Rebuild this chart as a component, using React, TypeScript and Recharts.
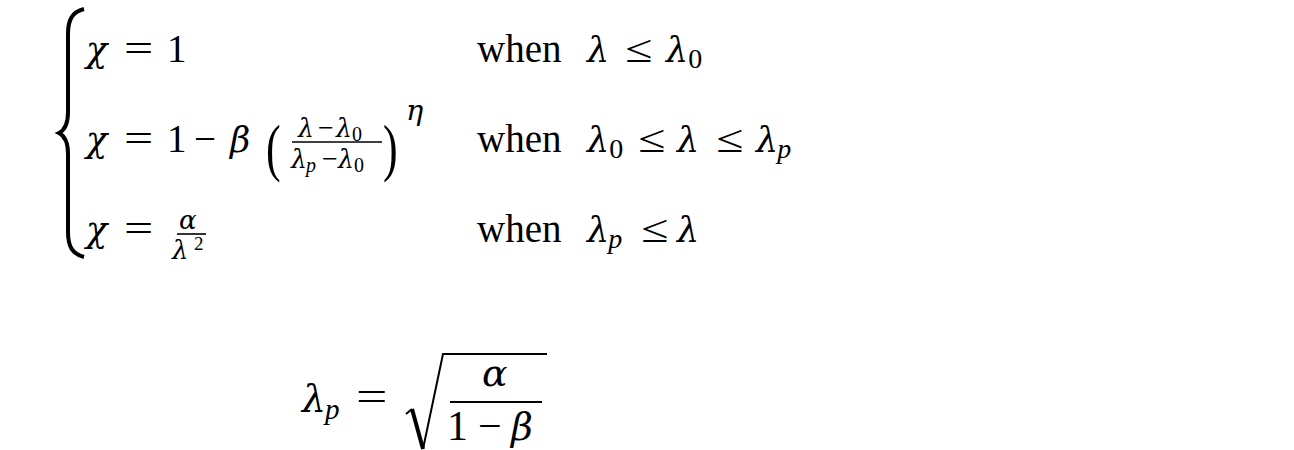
import React from 'react'
import { Surface, Text } from 'recharts'

const WIDTH = 1294
const HEIGHT = 450
const SERIF = '"Liberation Serif", "Times New Roman", serif'
const GREEK = '"DejaVu Serif", serif'
const GREEK_SCALE = 0.9

// formula content
const caseVariable = ['χ', 'χ', 'χ']
const conditionWord = ['when', 'when', 'when']
type Tok = { t: string; g?: boolean; sub?: string; op?: boolean }
const conditionTerms: Tok[][] = [
  [{ t: 'λ', g: true }, { t: '≤', op: true }, { t: 'λ', g: true, sub: '0' }],
  [
    { t: 'λ', g: true, sub: '0' },
    { t: '≤', op: true },
    { t: 'λ', g: true },
    { t: '≤', op: true },
    { t: 'λ', g: true, sub: 'p' },
  ],
  [{ t: 'λ', g: true, sub: 'p' }, { t: '≤', op: true }, { t: 'λ', g: true }],
]
const row1Rhs = '1'
const row2Rhs: Tok[] = [{ t: '1' }, { t: '−' }, { t: 'β', g: true }]
const row2Num: Tok[] = [{ t: 'λ', g: true }, { t: '−' }, { t: 'λ', g: true, sub: '0' }]
const row2Den: Tok[] = [{ t: 'λ', g: true, sub: 'p' }, { t: '−' }, { t: 'λ', g: true, sub: '0' }]
const row2Exp = 'η'
const row3Num = 'α'
const row3Den = 'λ'
const row3DenPow = '2'
const peakLhs: Tok = { t: 'λ', g: true, sub: 'p' }
const peakNum = 'α'
const peakDen: Tok[] = [{ t: '1' }, { t: '−' }, { t: 'β', g: true }]

// layout
const rowY = [62, 152, 242]
const condX = [
  [587, 625, 666],
  [587, 638, 677, 716, 756],
  [587, 641, 677],
]
const row2RhsX = [167, 194, 230]
const row2NumX = [298, 318, 336]
const row2DenX = [291, 322, 338]
const peakDenX = [447, 478, 511]

function Token({ tok, x, y, size, subSize }: { tok: Tok; x: number; y: number; size: number; subSize: number }) {
  const stretch = tok.op ? { textLength: size * 0.7, lengthAdjust: 'spacingAndGlyphs' } : {}
  return (
    <text x={x} y={y} fontFamily={SERIF} fontSize={size} fill="#000" {...stretch}>
      {tok.g ? (
        <tspan fontFamily={GREEK} fontStyle="italic" fontSize={size * GREEK_SCALE}>
          {tok.t}
        </tspan>
      ) : (
        tok.t
      )}
      {tok.sub && (
        <tspan fontSize={subSize} dy={size * 0.16} dx={tok.sub === 'p' ? -1 : 0} fontStyle={tok.sub === 'p' ? 'italic' : 'normal'}>
          {tok.sub}
        </tspan>
      )}
    </text>
  )
}

function Equals({ x, y, size }: { x: number; y: number; size: number }) {
  return (
    <text x={x} y={y} fontFamily={SERIF} fontSize={size} textLength={size * 0.75} lengthAdjust="spacingAndGlyphs">
      =
    </text>
  )
}

export default function App() {
  const fs = 39
  const sub = 28
  const fr = 28
  const frSub = 20
  return (
    <div style={{ position: 'absolute', left: 0, top: 0, width: WIDTH, height: HEIGHT, background: '#fff' }}>
      <Surface width={WIDTH} height={HEIGHT}>
        <rect x={0} y={0} width={WIDTH} height={HEIGHT} fill="#fff" />
        {/* brace */}
        <path
          d="M 84 9 C 72 12, 68 20, 68 34 L 68 112 C 68 124, 65 130, 59 133 C 65 136, 68 142, 68 154 L 68 232 C 68 246, 72 254, 84 257"
          fill="none"
          stroke="#000"
          strokeWidth={4}
        />
        {caseVariable.map((v, i) => (
          <g key={`lhs-${i}`}>
            <Token tok={{ t: v, g: true }} x={86} y={rowY[i]} size={fs} subSize={sub} />
            <Equals x={124} y={rowY[i]} size={fs} />
          </g>
        ))}
        {/* row 1 */}
        <Token tok={{ t: row1Rhs }} x={167} y={rowY[0]} size={fs} subSize={sub} />
        {/* row 2 */}
        {row2Rhs.map((tk, i) => (
          <Token key={`r2-${i}`} tok={tk} x={row2RhsX[i]} y={rowY[1]} size={fs} subSize={sub} />
        ))}
        <text transform="translate(266,169) scale(1,1.45)" fontFamily={SERIF} fontSize={44}>
          (
        </text>
        {row2Num.map((tk, i) => (
          <Token key={`n2-${i}`} tok={tk} x={row2NumX[i]} y={137} size={fr} subSize={frSub} />
        ))}
        <line x1={292} x2={382} y1={142} y2={142} stroke="#000" strokeWidth={1.6} />
        {row2Den.map((tk, i) => (
          <Token key={`d2-${i}`} tok={tk} x={row2DenX[i]} y={168} size={fr} subSize={frSub} />
        ))}
        <text transform="translate(383,169) scale(1,1.45)" fontFamily={SERIF} fontSize={44}>
          )
        </text>
        <Token tok={{ t: row2Exp, g: true }} x={406} y={120} size={32} subSize={frSub} />
        {/* row 3 */}
        <Token tok={{ t: row3Num, g: true }} x={179} y={229} size={29} subSize={frSub} />
        <line x1={177} x2={206} y1={234} y2={234} stroke="#000" strokeWidth={1.6} />
        <Token tok={{ t: row3Den, g: true }} x={172} y={259} size={29} subSize={frSub} />
        <text x={194} y={250} fontFamily={SERIF} fontSize={19}>
          {row3DenPow}
        </text>
        {/* conditions */}
        {conditionWord.map((w, i) => (
          <g key={`cond-${i}`}>
            <Text x={477} y={rowY[i]} fontFamily={SERIF} fontSize={fs} fill="#000" verticalAnchor="end">
              {w}
            </Text>
            {conditionTerms[i].map((tk, j) => (
              <Token key={j} tok={tk} x={condX[i][j]} y={rowY[i]} size={fs} subSize={sub} />
            ))}
          </g>
        ))}
        {/* peak formula */}
        <Token tok={peakLhs} x={302} y={412} size={42} subSize={29} />
        <Equals x={356} y={410} size={42} />
        <path d="M 406 414 L 412 409" fill="none" stroke="#000" strokeWidth={2} />
        <path d="M 412 409 L 423 449" fill="none" stroke="#000" strokeWidth={4} />
        <path d="M 423 449 L 443 354 L 547 354" fill="none" stroke="#000" strokeWidth={2} />
        <Token tok={{ t: peakNum, g: true }} x={482} y={386} size={42} subSize={29} />
        <line x1={450} x2={542} y1={402} y2={402} stroke="#000" strokeWidth={2} />
        {peakDen.map((tk, i) => (
          <Token key={`pd-${i}`} tok={tk} x={peakDenX[i]} y={440} size={42} subSize={29} />
        ))}
      </Surface>
    </div>
  )
}
